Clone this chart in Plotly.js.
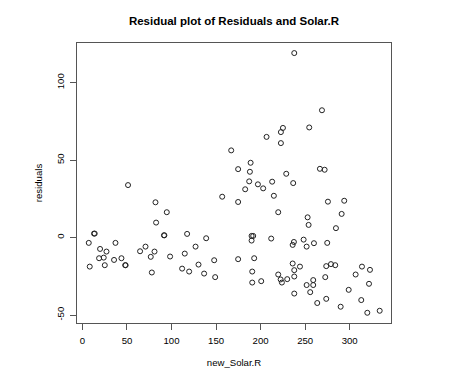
<!DOCTYPE html>
<html>
<head>
<meta charset="utf-8">
<script src="https://cdn.plot.ly/plotly-3.0.1.min.js"></script>
<style>html,body{margin:0;padding:0;background:#fff;}#chart{width:474px;height:380px;}</style>
</head>
<body>
<div id="chart"></div>
<script>
// x values (new_Solar.R)
const solarR = [
  51.2, 13.0, 13.8, 7.1, 8.2, 19.8, 27.0, 18.7, 23.9, 25.1, 37.1, 35.5, 43.8, 48.0, 48.5,
  64.7, 70.8, 82.0, 82.7, 94.7, 91.5, 92.0, 80.9, 76.7, 77.9, 98.4, 117.5, 127.0, 114.9,
  111.9, 119.8, 130.3,
  187.2, 197.0, 202.9, 213.0, 236.6, 182.7, 156.9, 174.8, 214.9, 219.8, 275.6, 252.8,
  253.9, 189.9, 191.7, 189.9, 211.9, 237.4, 236.0, 248.3, 251.7, 259.9, 274.8, 138.9,
  136.6, 147.9, 149.0, 174.8, 192.8, 190.6, 190.6, 200.7, 219.8, 222.5, 223.9, 229.9,
  236.0, 237.8, 237.8, 244.2, 237.8, 251.7, 259.1, 259.1, 255.7, 263.6, 273.7, 272.6,
  273.7,
  293.9, 291.0, 284.6, 279.0, 283.8, 313.8, 322.8, 306.7, 321.7, 298.9, 289.9, 313.0,
  319.8, 333.7,
  237.8, 268.9, 254.6, 225.1, 222.8, 206.7, 222.8, 167.0, 188.8, 174.8, 188.0, 228.8,
  266.6, 271.9
];
// y values (residuals)
const residuals = [
  33.9, 2.6, 2.6, -3.4, -18.7, -7.3, -9.0, -13.3, -12.9, -17.8, -3.4, -14.4, -13.3, -17.8, -17.8,
  -8.8, -5.8, 22.8, 9.7, 16.4, 1.5, 1.5, -9.0, -12.4, -22.5, -12.2, 2.4, -5.8, -10.3,
  -20.0, -21.9, -17.4,
  36.3, 34.4, 31.8, 36.1, 35.2, 31.2, 26.4, 23.0, 27.0, 16.4, 23.2, 13.1,
  8.2, 1.1, 1.1, -1.9, -0.6, -2.8, -4.7, -1.3, -5.8, -3.6, -3.4, -0.4,
  -23.2, -14.6, -25.5, -13.9, -13.3, -21.9, -29.0, -28.1, -23.8, -27.0, -29.0, -26.8,
  -16.7, -21.0, -25.1, -18.7, -36.1, -30.6, -27.4, -30.6, -35.2, -42.2, -39.5, -25.5,
  -18.4,
  23.8, 15.3, 6.1, -17.1, -17.8, -18.7, -20.8, -23.8, -29.8, -33.7, -44.6, -40.3,
  -48.5, -47.2,
  119.1, 82.2, 71.1, 70.8, 68.1, 65.0, 61.0, 56.3, 48.3, 44.2, 42.5, 41.2,
  44.4, 43.8
];
const xTicks = [0, 50, 100, 150, 200, 250, 300];
const yTicks = [-50, 0, 50, 100];

const font = "Liberation Sans, Arial, Helvetica, sans-serif";

const trace = {
  x: solarR,
  y: residuals,
  type: "scatter",
  mode: "markers",
  marker: {symbol: "circle-open", size: 5, color: "#222", line: {width: 1, color: "#222"}},
  hoverinfo: "x+y"
};

const axisCommon = {
  showgrid: false,
  zeroline: false,
  showline: true,
  mirror: true,
  linecolor: "#555",
  linewidth: 1,
  ticks: "outside",
  ticklen: 6,
  tickcolor: "#555",
  tickfont: {family: font, size: 9.6, color: "#000"},
  tickmode: "array"
};

const layout = {
  width: 474,
  height: 380,
  margin: {l: 77, r: 83, t: 43, b: 57},
  paper_bgcolor: "#fff",
  plot_bgcolor: "#fff",
  showlegend: false,
  title: {
    text: "<b>Residual plot of Residuals and Solar.R</b>",
    font: {family: font, size: 11.5, color: "#000"},
    x: 234 / 474, xanchor: "center",
    y: 1 - 21 / 380, yanchor: "middle"
  },
  xaxis: Object.assign({}, axisCommon, {
    range: [-6.1, 346.4],
    tickvals: xTicks,
    ticktext: xTicks.map(String),
    ticklabelstandoff: 2,
    title: {text: "new_Solar.R", font: {family: font, size: 9.6, color: "#000"}, standoff: 14}
  }),
  yaxis: Object.assign({}, axisCommon, {
    range: [-55.1, 125.6],
    tickvals: yTicks,
    ticktext: yTicks.map(String),
    tickangle: -90,
    ticklabelstandoff: 2,
    title: {text: "residuals", font: {family: font, size: 9.6, color: "#000"}, standoff: 10}
  })
};

Plotly.newPlot("chart", [trace], layout, {displayModeBar: false, staticPlot: true});
</script>
</body>
</html>
